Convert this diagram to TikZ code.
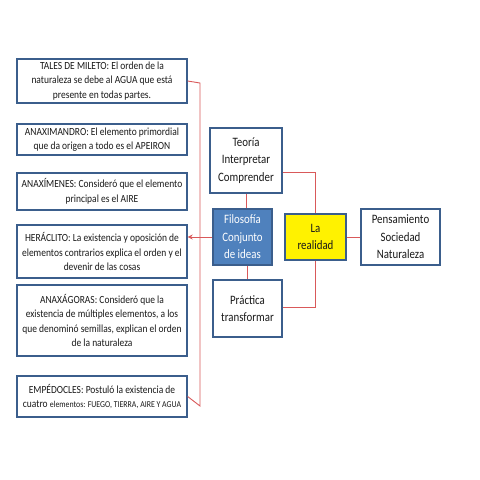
\documentclass[tikz,border=0pt]{standalone}
\usepackage{fontspec}
\setmainfont{Carlito}
\newfontfamily\lfont[FakeStretch=0.87]{Carlito}
\newfontfamily\cfont[FakeStretch=0.85]{Carlito}
\usetikzlibrary{arrows.meta}
\definecolor{bordc}{HTML}{3B5E8C}
\definecolor{bluef}{HTML}{4F81BD}
\definecolor{redl}{HTML}{D9595A}
\definecolor{txt}{HTML}{1A1A1A}
\tikzset{
  lbox/.style={draw=bordc, line width=1.3pt, fill=white, text=txt, align=center, inner sep=0pt,
    minimum width=170pt, font=\lfont\fontsize{10.9}{14.5}\selectfont},
  cbox/.style={draw=bordc, line width=1.3pt, fill=white, text=txt, align=center, inner sep=0pt,
    font=\cfont\fontsize{12.8}{17.5}\selectfont},
  conn/.style={draw=redl, line width=0.9pt},
}
\begin{document}
\begin{tikzpicture}[x=1pt,y=-1pt]
\useasboundingbox[fill=white] (0,0) rectangle (480,480);
% left column
\node[lbox, minimum height=44pt] (tales) at (102,81) {TALES DE MILETO: El orden de la\\naturaleza se debe al AGUA que está\\presente en todas partes.};
\node[lbox, minimum height=31pt] (anaximandro) at (102,139.5) {ANAXIMANDRO: El elemento primordial\\que da origen a todo es el APEIRON};
\node[lbox, minimum height=37pt] (anaximenes) at (102,191.5) {ANAXÍMENES: Consideró que el elemento\\principal es el AIRE};
\node[lbox, minimum height=53pt] (heraclito) at (102,251.5) {HERÁCLITO: La existencia y oposición de\\elementos contrarios explica el orden y el\\devenir de las cosas};
\node[lbox, minimum height=71pt] (anaxagoras) at (102,320.5) {ANAXÁGORAS: Consideró que la\\existencia de múltiples elementos, a los\\que denominó semillas, explican el orden\\de la naturaleza};
\node[lbox, minimum height=41pt] (empedocles) at (102,396.5) {EMPÉDOCLES: Postuló la existencia de\\cuatro {\fontsize{9}{14.5}\selectfont elementos: FUEGO, TIERRA, AIRE Y AGUA}};
% center
\node[cbox, minimum width=72pt, minimum height=65pt] (teoria) at (246,160.5) {Teoría\\Interpretar\\Comprender};
\node[cbox, fill=bluef, text=white, minimum width=59pt, minimum height=56pt] (filosofia) at (242.5,237) {Filosofía\\Conjunto\\de ideas};
\node[cbox, fill=yellow, minimum width=61pt, minimum height=46pt] (realidad) at (315.5,237) {La\\realidad};
\node[cbox, minimum width=69pt, minimum height=57pt] (practica) at (247.5,308.5) {Práctica\\transformar};
\node[cbox, minimum width=79pt, minimum height=56pt] (pensamiento) at (400.5,237) {Pensamiento\\Sociedad\\Naturaleza};
% connectors
\coordinate (brk) at (200,83);
\draw[conn] (tales.east) -- (brk) -- (brk |- 0,406) -- (empedocles.east);
\draw[conn, -{Stealth[length=5pt,width=5pt]}] (filosofia.west) -- (heraclito.east |- filosofia.west);
\draw[conn] (teoria.south -| 246,0) -- (filosofia.north -| 246,0);
\draw[conn] (filosofia.south -| 247,0) -- (practica.north -| 247,0);
\coordinate (tr) at (teoria.east |- 0,172);
\draw[conn] (tr) -| (realidad.north);
\coordinate (pr) at (practica.east |- 0,307);
\draw[conn] (realidad.south) |- (pr);
\draw[conn] (realidad.east) -- (pensamiento.west);
\end{tikzpicture}
\end{document}
